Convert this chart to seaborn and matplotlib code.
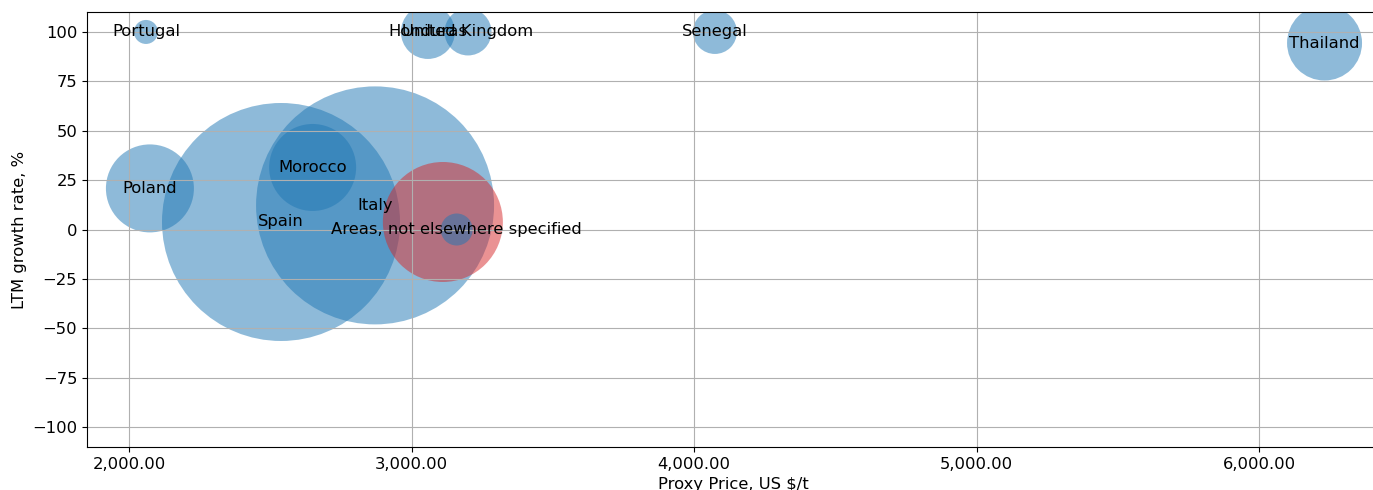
import matplotlib
matplotlib.use("Agg")
import matplotlib.pyplot as plt
import matplotlib.ticker as mticker
import seaborn as sns
import pandas as pd

# ---- data ----
countries = ["Spain", "Italy", "Poland", "Morocco", "Portugal", "Honduras",
             "United Kingdom", "Senegal", "Thailand", "",
             "Areas, not elsewhere specified"]
proxy_price = [2538, 2871, 2074, 2650, 2060, 3058, 3200, 4074, 6232, 3111, 3160]
growth_rate = [3.8, 12.2, 20.8, 31.4, 100, 100, 100, 100, 94.4, 3.8, 0.0]
volume = [14161, 14161, 1936, 1892, 144, 729, 552, 484, 1406, 3600, 256]
group = ["market"] * 9 + ["focus"] + ["market"]

x_ticks = [2000, 3000, 4000, 5000, 6000]
y_ticks = [-100, -75, -50, -25, 0, 25, 50, 75, 100]

df = pd.DataFrame({"country": countries, "price": proxy_price,
                   "growth": growth_rate, "volume": volume, "group": group})

plt.rcParams["font.family"] = ["DejaVu Sans"]
plt.rcParams["font.size"] = 11.8

W, H = 1373, 490
fig = plt.figure(figsize=(W / 100, H / 100), dpi=100)
ax = fig.add_axes([87 / W, 43 / H, 1293 / W, 435 / H])

scale = (2 * 0.72) ** 2  # area px^2 -> marker pt^2
vmin, vmax = min(volume), max(volume)
sns.scatterplot(data=df, x="price", y="growth", size="volume",
                sizes=(vmin * scale, vmax * scale), size_norm=(vmin, vmax),
                hue="group", palette={"market": "tab:blue", "focus": "tab:red"},
                alpha=0.5, linewidth=0, legend=False, ax=ax)

for c, xv, yv in zip(countries, proxy_price, growth_rate):
    if c:
        ax.text(xv, yv, c, ha="center", va="center", fontsize=11.8, color="black")

ax.set_xlim(1851.3, 1851.3 + 1293 / 0.2825)
ax.set_ylim(-110.1, 110.1)
ax.set_xticks(x_ticks)
ax.set_yticks(y_ticks)
ax.xaxis.set_major_formatter(mticker.StrMethodFormatter("{x:,.2f}"))
ax.grid(True)
ax.set_xlabel("Proxy Price, US $/t")
ax.set_ylabel("LTM growth rate, %")

fig.savefig("out.png", dpi=100)
